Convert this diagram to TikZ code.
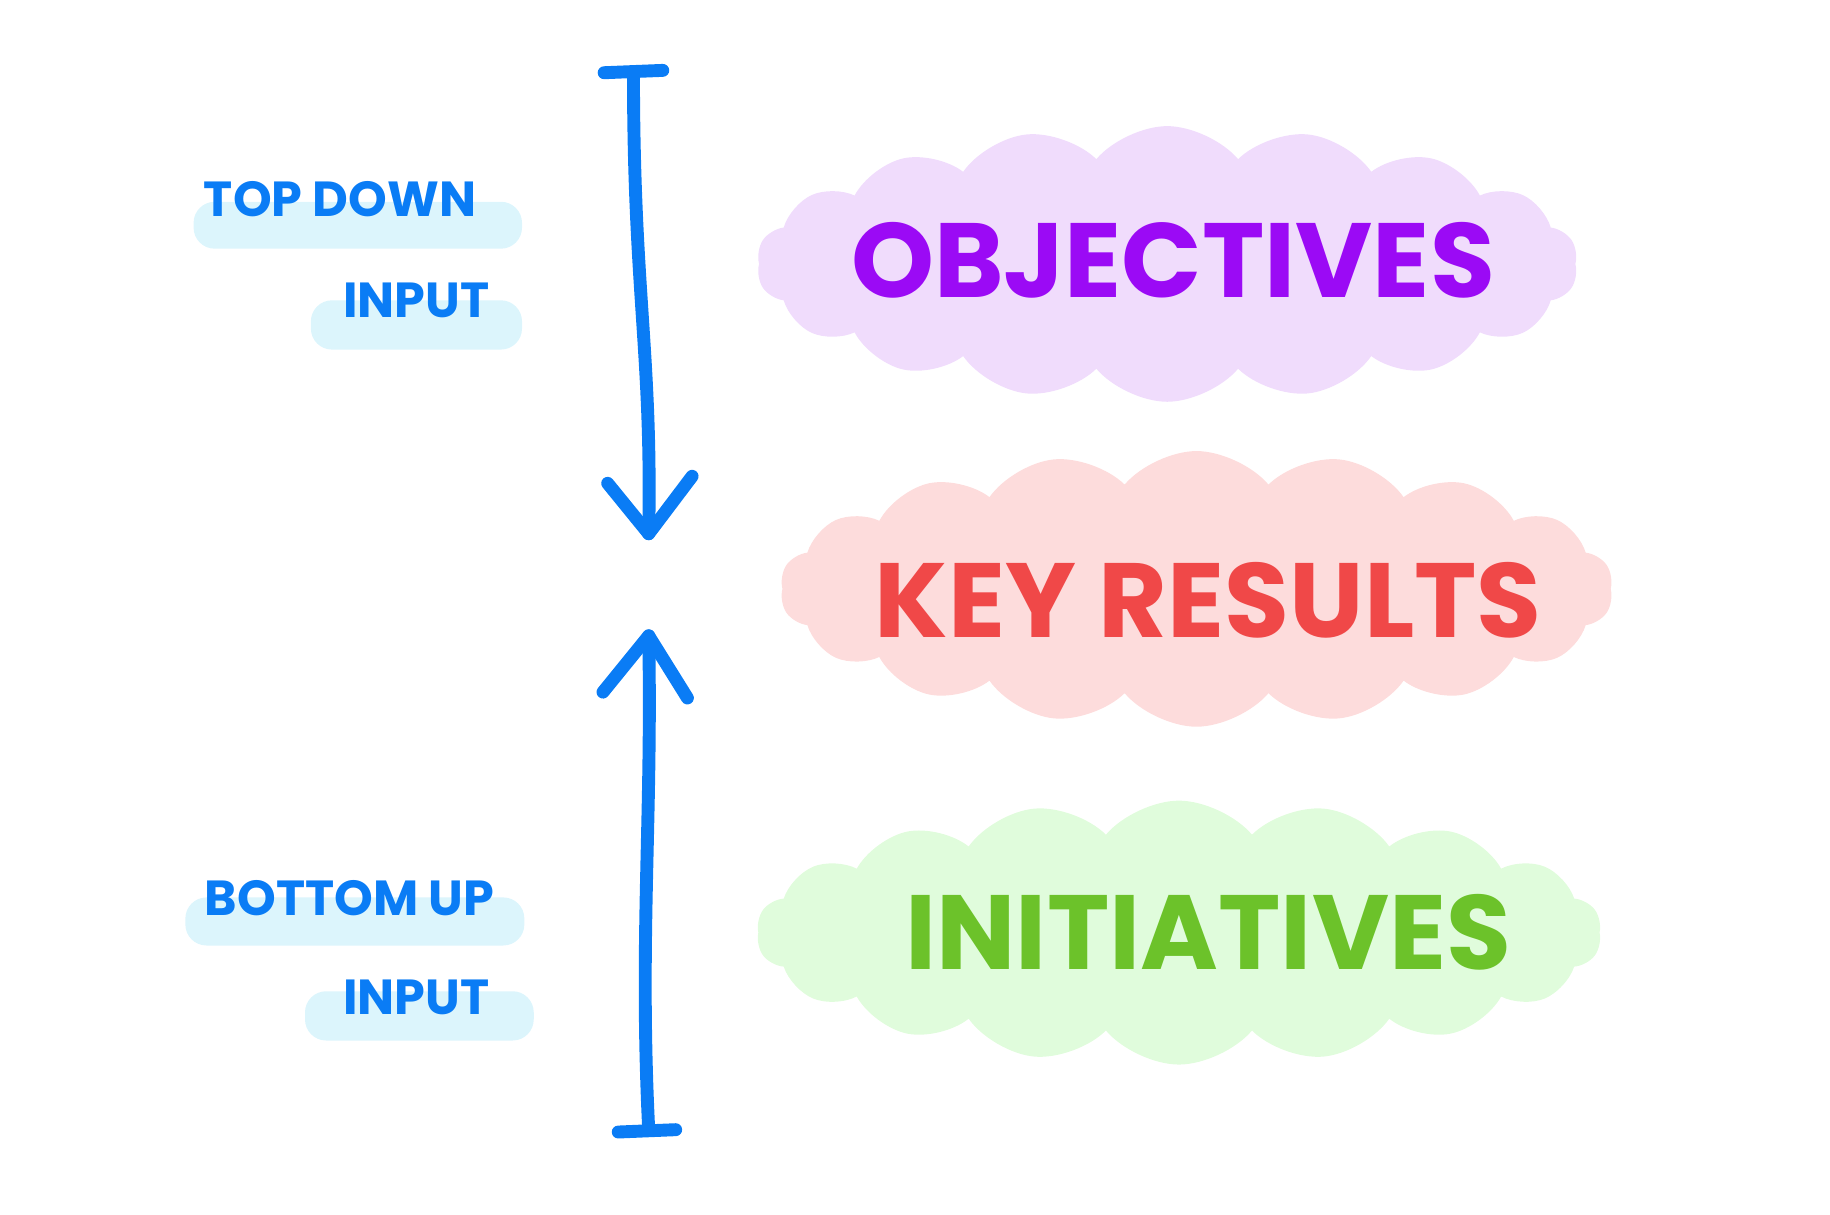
\documentclass[tikz,border=0pt]{standalone}
\usepackage{fontspec}
\setmainfont{Poppins}
\usetikzlibrary{shapes.symbols}
\definecolor{bl}{HTML}{0A7CF5}
\definecolor{pu}{HTML}{9B0AF5}
\definecolor{rd}{HTML}{F04848}
\definecolor{gr}{HTML}{6CC22A}
\definecolor{puf}{HTML}{F0DCFC}
\definecolor{rdf}{HTML}{FDDCDC}
\definecolor{grf}{HTML}{E0FCDC}
\definecolor{hl}{HTML}{DCF5FC}
\tikzset{
 cl/.style={cloud, cloud puffs=18, cloud puff arc=100, aspect=3, inner sep=0pt, minimum width=700pt, minimum height=235pt},
 big/.style={font=\fontsize{90}{92}\selectfont\bfseries},
 lab/.style={font=\fontsize{42}{46}\selectfont\bfseries, text=bl},
 hlb/.style={fill=hl, rounded corners=18pt},
 ar/.style={draw=bl, line width=11pt, line cap=round, line join=round}
}
\begin{document}
\begin{tikzpicture}[x=1pt,y=-1pt]
\useasboundingbox (0,0) rectangle (1560,1035);
\node[cl, fill=puf] (c1) at (995,225) {};
\node[cl, fill=rdf, minimum width=710pt] (c2) at (1020,502) {};
\node[cl, fill=grf, minimum width=720pt, minimum height=225pt] (c3) at (1005,795) {};
\node[big, text=pu] (t1) at (1000,222) {OBJECTIVES};
\node[big, text=rd] (t2) at (1030,512) {KEY RESULTS};
\node[big, text=gr] (t3) at (1030,795) {INITIATIVES};
\fill[hlb] (165,172) rectangle (445,212);
\fill[hlb] (265,256) rectangle (445,298);
\fill[hlb] (158,765) rectangle (447,806);
\fill[hlb] (260,845) rectangle (455,887);
\node[lab] (l1) at (290,170) {TOP DOWN};
\node[lab] (l2) at (355,256) {INPUT};
\node[lab] (l3) at (298,766) {BOTTOM UP};
\node[lab] (l4) at (355,850) {INPUT};
\coordinate (a1) at (540,62);
\coordinate (a2) at (553,455);
\coordinate (b1) at (553,963);
\coordinate (b2) at (553,542);
\draw[ar] (515,62) -- (565,60);
\draw[ar] (a1) .. controls (540,250) and (556,300) .. (a2);
\draw[ar] (518,412) -- (a2) -- (590,406);
\draw[ar] (527,965) -- (576,963);
\draw[ar] (b1) .. controls (545,800) and (556,700) .. (b2);
\draw[ar] (514,590) -- (b2) -- (586,595);
\end{tikzpicture}
\end{document}
